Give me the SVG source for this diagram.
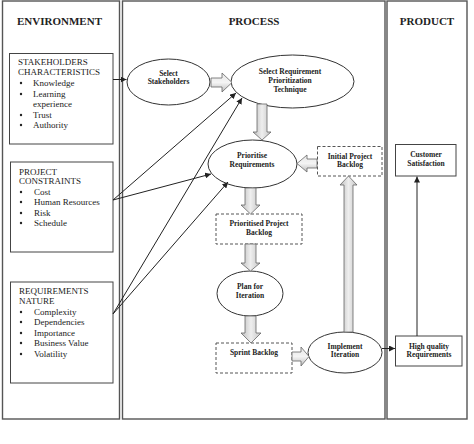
<svg xmlns="http://www.w3.org/2000/svg" width="474" height="444" viewBox="0 0 474 444">
<style>
.panel{fill:#fff;stroke:#555;stroke-width:1.4}
.hdr{font-family:"Liberation Serif",serif;font-weight:bold;font-size:11px;fill:#222;text-anchor:middle}
.box{fill:#fff;stroke:#444;stroke-width:1}
.dbox{fill:#fff;stroke:#555;stroke-width:1;stroke-dasharray:3,2}
.ell{fill:#fff;stroke:#333;stroke-width:1}
.lt{font-family:"Liberation Serif",serif;font-size:9px;fill:#222}
.nt{font-family:"Liberation Serif",serif;font-weight:bold;font-size:7.5px;fill:#222;text-anchor:middle}
.bul{fill:#222}
.ln{stroke:#222;stroke-width:1;fill:none;marker-end:url(#ah)}
.blk{stroke:#666;stroke-width:0.8}
</style>
<defs>
<marker id="ah" viewBox="0 0 10 10" refX="10" refY="5" markerWidth="6" markerHeight="6" orient="auto" markerUnits="userSpaceOnUse">
<path d="M0,0 L10,5 L0,10 Z" fill="#222"/>
</marker>
<linearGradient id="gh" x1="0" y1="0" x2="0" y2="1">
<stop offset="0" stop-color="#e6e6e6"/><stop offset="0.5" stop-color="#f4f4f4"/><stop offset="1" stop-color="#bdbdbd"/>
</linearGradient>
<linearGradient id="gv" x1="0" y1="0" x2="1" y2="0">
<stop offset="0" stop-color="#bdbdbd"/><stop offset="0.5" stop-color="#eeeeee"/><stop offset="1" stop-color="#c4c4c4"/>
</linearGradient>
</defs>
<rect width="474" height="444" fill="#fff"/>
<g id="panels">
<rect class="panel" x="2.5" y="1" width="117" height="418"/>
<rect class="panel" x="122.5" y="1" width="262.5" height="418"/>
<rect class="panel" x="387" y="1" width="80" height="418"/>
<text class="hdr" x="59.5" y="24.5">ENVIRONMENT</text>
<text class="hdr" x="254" y="24.5">PROCESS</text>
<text class="hdr" x="427" y="24.5">PRODUCT</text>
</g>
<g id="stakeholders">
<rect class="box" x="9.5" y="53.5" width="103.5" height="90.5"/>
<text class="lt" x="18" y="65">STAKEHOLDERS</text>
<text class="lt" x="18" y="75">CHARACTERISTICS</text>
<circle class="bul" cx="21" cy="83" r="1.2"/><text class="lt" x="33" y="86">Knowledge</text>
<circle class="bul" cx="21" cy="94" r="1.2"/><text class="lt" x="33" y="97">Learning</text>
<text class="lt" x="33" y="107">experience</text>
<circle class="bul" cx="21" cy="115" r="1.2"/><text class="lt" x="33" y="118">Trust</text>
<circle class="bul" cx="21" cy="125" r="1.2"/><text class="lt" x="33" y="128">Authority</text>
</g>
<g id="constraints">
<rect class="box" x="10.5" y="162" width="102.5" height="90"/>
<text class="lt" x="19" y="175">PROJECT</text>
<text class="lt" x="19" y="184">CONSTRAINTS</text>
<circle class="bul" cx="21" cy="192" r="1.2"/><text class="lt" x="34" y="195">Cost</text>
<circle class="bul" cx="21" cy="202" r="1.2"/><text class="lt" x="34" y="205">Human Resources</text>
<circle class="bul" cx="21" cy="213" r="1.2"/><text class="lt" x="34" y="216">Risk</text>
<circle class="bul" cx="21" cy="223" r="1.2"/><text class="lt" x="34" y="226">Schedule</text>
</g>
<g id="reqnature">
<rect class="box" x="10.5" y="282" width="102.5" height="101"/>
<text class="lt" x="19" y="294">REQUIREMENTS</text>
<text class="lt" x="19" y="304">NATURE</text>
<circle class="bul" cx="21" cy="312" r="1.2"/><text class="lt" x="34" y="315">Complexity</text>
<circle class="bul" cx="21" cy="322" r="1.2"/><text class="lt" x="34" y="325">Dependencies</text>
<circle class="bul" cx="21" cy="333" r="1.2"/><text class="lt" x="34" y="336">Importance</text>
<circle class="bul" cx="21" cy="343" r="1.2"/><text class="lt" x="34" y="346">Business Value</text>
<circle class="bul" cx="21" cy="354" r="1.2"/><text class="lt" x="34" y="357">Volatility</text>
</g>
<g id="selectStakeholders">
<ellipse class="ell" cx="168.5" cy="82" rx="41.5" ry="23"/>
<text class="nt" x="168.5" y="75.5">Select</text>
<text class="nt" x="168.5" y="84">Stakeholders</text>
</g>
<g id="selectTechnique">
<ellipse class="ell" cx="292.5" cy="81.5" rx="61.5" ry="26.5"/>
<text class="nt" x="290" y="73.5">Select Requirement</text>
<text class="nt" x="290" y="82.5">Prioritization</text>
<text class="nt" x="290" y="91.5">Technique</text>
</g>
<g id="prioritise">
<ellipse class="ell" cx="252.5" cy="164" rx="44.5" ry="24"/>
<text class="nt" x="252" y="157.5">Prioritise</text>
<text class="nt" x="252" y="166.5">Requirements</text>
</g>
<g id="initialBacklog">
<rect class="dbox" x="317.5" y="146.5" width="64.5" height="29.5"/>
<text class="nt" x="350" y="158.5">Initial Project</text>
<text class="nt" x="350" y="166.5">Backlog</text>
</g>
<g id="prioritisedBacklog">
<rect class="dbox" x="216" y="214" width="86" height="30"/>
<text class="nt" x="259" y="225.5">Prioritised Project</text>
<text class="nt" x="259" y="234.5">Backlog</text>
</g>
<g id="planIteration">
<ellipse class="ell" cx="250" cy="293.5" rx="33" ry="22.5"/>
<text class="nt" x="250" y="288.5">Plan for</text>
<text class="nt" x="250" y="297.5">Iteration</text>
</g>
<g id="sprintBacklog">
<rect class="dbox" x="216" y="343" width="76" height="30"/>
<text class="nt" x="254" y="354.5">Sprint Backlog</text>
</g>
<g id="implementIteration">
<ellipse class="ell" cx="345" cy="352.5" rx="37" ry="20.5"/>
<text class="nt" x="345" y="348.5">Implement</text>
<text class="nt" x="345" y="357">Iteration</text>
</g>
<g id="customerSatisfaction">
<rect class="box" x="395.5" y="144.5" width="60.5" height="31.5"/>
<text class="nt" x="426" y="156.5">Customer</text>
<text class="nt" x="426" y="165.5">Satisfaction</text>
</g>
<g id="highQuality">
<rect class="box" x="395.5" y="336" width="66.5" height="30"/>
<text class="nt" x="429" y="348.5">High quality</text>
<text class="nt" x="429" y="357">Requirements</text>
</g>
<g id="connectors">
<path class="ln" d="M113,79.5 L126.5,79.5"/>
<path class="ln" d="M113,200 L236,93"/>
<path class="ln" d="M113,200 L211,174"/>
<path class="ln" d="M113,314 L242,98"/>
<path class="ln" d="M113,314 L228,182"/>
<path class="ln" d="M382,348.5 L395,348.5"/>
<path class="ln" d="M417,336 L417,176.5"/>
<path class="blk" fill="url(#gh)" d="M211,78 H222 V73 L232,82.5 L222,92 V87 H211 Z"/>
<path class="blk" fill="url(#gv)" d="M257,104 H267 V132 H271 L262,140 L253,132 H257 Z"/>
<path class="blk" fill="url(#gh)" d="M317,159 V168 H307 V172 L297,163.5 L307,155 V159 Z"/>
<path class="blk" fill="url(#gv)" d="M245,188 H256 V205 H260 L250.5,214 L241,205 H245 Z"/>
<path class="blk" fill="url(#gv)" d="M245,244 H256 V263 H260 L250.5,271 L241,263 H245 Z"/>
<path class="blk" fill="url(#gv)" d="M245,316 H256 V333 H261 L251,343 L241,333 H245 Z"/>
<path class="blk" fill="url(#gh)" d="M292,352 H301 V347 L309,356.5 L301,366 V361 H292 Z"/>
<path class="blk" fill="url(#gv)" d="M344,332 V185 H340 L348.5,176 L357,185 H353 V332 Z"/>
</g>
</svg>
